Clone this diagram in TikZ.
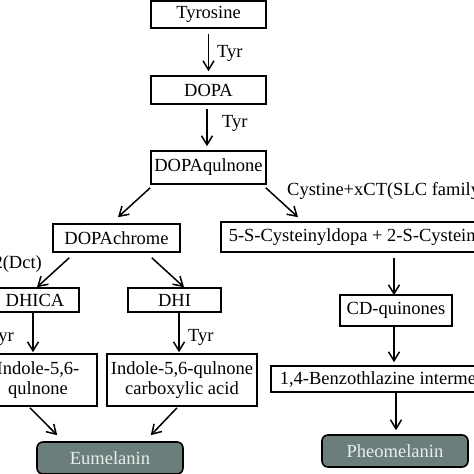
\documentclass[tikz,border=0pt]{standalone}
\usepackage{fontspec}
\setmainfont{Liberation Serif}
\usetikzlibrary{arrows.meta,calc}
\definecolor{melfill}{HTML}{6C7E7B}
\definecolor{meltext}{HTML}{E8EEEC}
\begin{document}
\begin{tikzpicture}[x=1pt,y=-1pt,
  every node/.style={font=\fontsize{18.5}{20}\selectfont},
  stepbox/.style={draw=black,line width=1.6pt,fill=white,inner sep=0pt,align=center},
  melbox/.style={draw=black,line width=1.6pt,fill=melfill,text=meltext,rounded corners=6pt,inner sep=0pt},
  arr/.style={-{Straight Barb[length=9pt,width=11pt]},line width=1.5pt},
  lbl/.style={inner sep=0pt}]
\useasboundingbox (0,0) rectangle (474,474);
\clip (0,0) rectangle (474,474);
\fill[white] (0,0) rectangle (474,474);
% main column
\node[stepbox,minimum width=115pt,minimum height=27pt] (tyr) at (208.5,14.5) {Tyrosine};
\node[stepbox,minimum width=115pt,minimum height=28pt] (dopa) at (208.5,90) {DOPA};
\node[stepbox,minimum width=115pt,minimum height=33pt] (dq) at (208.5,167.5) {DOPAqulnone};
% eumelanin branch
\node[stepbox,minimum width=127pt,minimum height=28pt] (dc) at (116.5,238) {DOPAchrome};
\node[stepbox,minimum width=88pt,minimum height=24pt] (dhica) at (35,300) {DHICA};
\node[stepbox,minimum width=93pt,minimum height=24pt] (dhi) at (174.5,300) {DHI};
\node[stepbox,minimum width=118pt,minimum height=52pt] (iq) at (38,380) {Indole-5,6-\\qulnone};
\node[stepbox,minimum width=150pt,minimum height=52pt] (iqc) at (182,380) {Indole-5,6-qulnone\\carboxylic acid};
\node[melbox,minimum width=146pt,minimum height=32pt] (eu) at (110,458) {Eumelanin};
% pheomelanin branch
\node[stepbox,anchor=west,inner xsep=8pt,minimum height=30pt] (cys) at (220,237) {5-S-Cysteinyldopa + 2-S-Cysteinyldopa};
\node[stepbox,minimum width=112pt,minimum height=31pt] (cdq) at (396,310.5) {CD-quinones};
\node[stepbox,anchor=west,inner xsep=9pt,minimum height=26pt] (benz) at (270,379) {1,4-Benzothlazine intermediate};
\node[melbox,minimum width=146pt,minimum height=32pt] (pheo) at (395,451) {Pheomelanin};
% labels
\node[lbl,anchor=west] (l1) at (217,53) {Tyr};
\node[lbl,anchor=west] (l2) at (222,123) {Tyr};
\node[lbl,anchor=east] (l3) at (42,264) {Tyrp2(Dct)};
\node[lbl,anchor=east] (l4) at (14,337) {Tyr};
\node[lbl,anchor=west] (l5) at (188,337) {Tyr};
\node[lbl,anchor=west] (l6) at (287,191) {Cystine+xCT(SLC family)};
% connectors
\draw[arr] ([yshift=-5pt]tyr.south) -- ([yshift=4pt]dopa.north);
\draw[arr] ([xshift=-1.5pt,yshift=-4pt]dopa.south) -- ([xshift=-1.5pt,yshift=4pt]dq.north);
\draw[arr] ([yshift=-3pt]dq.south west) -- ([xshift=1.5pt,yshift=6pt]dc.north);
\draw[arr] ([xshift=-1pt,yshift=-3pt]dq.south east) -- ([xshift=78pt,yshift=4pt]cys.north west);
\draw[arr] ([xshift=17pt,yshift=-5pt]dc.south west) -- ([xshift=2pt]dhica.north);
\draw[arr] ([xshift=-29pt,yshift=-5pt]dc.south east) -- ([xshift=9.5pt]dhi.north);
\draw[arr] ([xshift=-2pt]dhica.south) -- ([xshift=-5pt,yshift=1pt]iq.north);
\draw[arr] ([xshift=4.5pt]dhi.south) -- ([xshift=-3pt,yshift=1pt]iqc.north);
\draw[arr] ([xshift=-8pt,yshift=-1pt]iq.south) -- ([xshift=21pt,yshift=6pt]eu.north west);
\draw[arr] ([xshift=-5pt,yshift=-1pt]iqc.south) -- ([xshift=-33pt,yshift=6pt]eu.north east);
\draw[arr] ([xshift=174pt,yshift=-5pt]cys.south west) -- ([xshift=-2pt,yshift=-1pt]cdq.north);
\draw[arr] ([xshift=-2pt]cdq.south) -- ([xshift=124pt,yshift=3pt]benz.north west);
\draw[arr] ([xshift=126pt]benz.south west) -- ([xshift=1pt,yshift=4pt]pheo.north);
\end{tikzpicture}
\end{document}
